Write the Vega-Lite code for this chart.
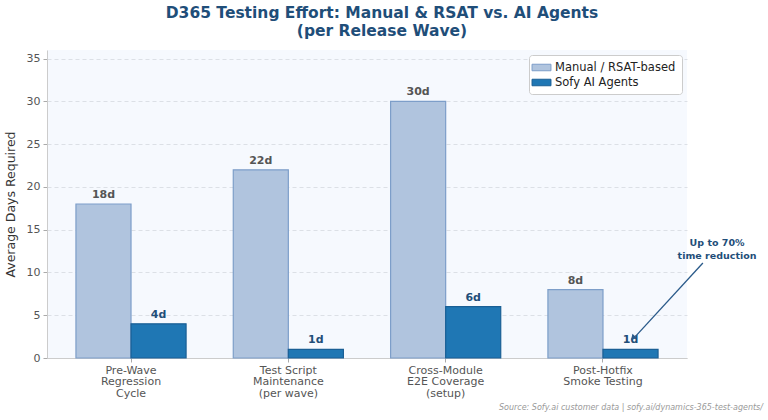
{
  "$schema": "https://vega.github.io/schema/vega-lite/v6.json",
  "autosize": "none",
  "width": 640,
  "height": 308,
  "padding": {"left": 47, "top": 50, "right": 81, "bottom": 62},
  "background": "white",
  "config": {
    "font": "DejaVu Sans",
    "view": {"fill": "#f6f9fe", "stroke": null}
  },
  "title": {
    "text": ["D365 Testing Effort: Manual & RSAT vs. AI Agents", "(per Release Wave)"],
    "fontSize": 15.5,
    "fontWeight": "bold",
    "color": "#1f4e79",
    "anchor": "middle",
    "dx": 15,
    "offset": 11,
    "lineHeight": 18
  },
  "datasets": {
    "bars": [
      {"task": "Pre-Wave\nRegression\nCycle", "series": "Manual / RSAT-based", "days": 18, "label": "18d"},
      {"task": "Pre-Wave\nRegression\nCycle", "series": "Sofy AI Agents", "days": 4, "label": "4d"},
      {"task": "Test Script\nMaintenance\n(per wave)", "series": "Manual / RSAT-based", "days": 22, "label": "22d"},
      {"task": "Test Script\nMaintenance\n(per wave)", "series": "Sofy AI Agents", "days": 1, "label": "1d"},
      {"task": "Cross-Module\nE2E Coverage\n(setup)", "series": "Manual / RSAT-based", "days": 30, "label": "30d"},
      {"task": "Cross-Module\nE2E Coverage\n(setup)", "series": "Sofy AI Agents", "days": 6, "label": "6d"},
      {"task": "Post-Hotfix\nSmoke Testing", "series": "Manual / RSAT-based", "days": 8, "label": "8d"},
      {"task": "Post-Hotfix\nSmoke Testing", "series": "Sofy AI Agents", "days": 1, "label": "1d"}
    ],
    "arrow": [
      {"x": 4.17, "y": 11.1, "x2": 3.74, "y2": 2.5}
    ],
    "arrowhead": [
      {"x": 3.725, "y": 2.34}
    ],
    "note": [
      {"x": 4.26, "y": 13.4, "text": "Up to 70%\ntime reduction"}
    ],
    "source": [
      {"x": 4.552, "y": -5.84, "text": "Source: Sofy.ai customer data | sofy.ai/dynamics-365-test-agents/"}
    ]
  },
  "layer": [
    {
      "data": {"name": "bars"},
      "layer": [
        {
          "mark": {"type": "bar", "strokeWidth": 1.2},
          "encoding": {
            "x": {
              "field": "task", "type": "nominal", "sort": null,
              "scale": {"paddingInner": 0.3, "paddingOuter": 0.184},
              "axis": {
                "title": null,
                "labelAngle": 0,
                "labelExpr": "split(datum.value, '\\n')",
                "labelFontSize": 11,
                "labelColor": "#555555",
                "labelLineHeight": 11.7,
                "labelPadding": 2,
                "tickColor": "#aaaaaa",
                "tickSize": 4,
                "domainColor": "#cccccc",
                "grid": false
              }
            },
            "xOffset": {"field": "series", "type": "nominal", "sort": null, "scale": {"paddingInner": 0}},
            "y": {
              "field": "days", "type": "quantitative",
              "scale": {"domain": [0, 36], "nice": false},
              "axis": {
                "title": "Average Days Required",
                "titleFontSize": 12.5,
                "titleFontWeight": "normal",
                "titleColor": "#333333",
                "titlePadding": 9,
                "values": [0, 5, 10, 15, 20, 25, 30, 35],
                "labelFontSize": 11,
                "labelColor": "#555555",
                "labelPadding": 3,
                "tickColor": "#aaaaaa",
                "tickSize": 4,
                "domainColor": "#cccccc",
                "grid": true,
                "gridColor": "#d5d9e0",
                "gridDash": [4, 3],
                "gridWidth": 0.8
              }
            },
            "fill": {
              "field": "series", "type": "nominal", "sort": null,
              "scale": {"domain": ["Manual / RSAT-based", "Sofy AI Agents"], "range": ["#b0c4de", "#1f77b4"]},
              "legend": {
                "title": null,
                "orient": "top-right",
                "offset": 5,
                "labelFontSize": 11.5,
                "labelColor": "#222222",
                "labelOffset": 7,
                "symbolType": "M-1.6,-0.55H1.6V0.55H-1.6Z",
                "symbolSize": 140,
                "symbolStrokeWidth": 1,
                "fillColor": "white",
                "strokeColor": "#cccccc",
                "cornerRadius": 3,
                "padding": 6,
                "rowPadding": 3
              }
            },
            "stroke": {
              "field": "series", "type": "nominal", "sort": null,
              "scale": {"domain": ["Manual / RSAT-based", "Sofy AI Agents"], "range": ["#7d9ec9", "#1a5f95"]}
            }
          }
        },
        {
          "mark": {"type": "text", "fontWeight": "bold", "fontSize": 11, "dy": -4, "baseline": "bottom"},
          "encoding": {
            "x": {"field": "task", "type": "nominal", "sort": null},
            "xOffset": {"field": "series", "type": "nominal", "sort": null},
            "y": {"field": "days", "type": "quantitative"},
            "text": {"field": "label"},
            "color": {
              "field": "series", "type": "nominal", "sort": null,
              "scale": {"domain": ["Manual / RSAT-based", "Sofy AI Agents"], "range": ["#555555", "#1f4e79"]},
              "legend": null
            }
          }
        }
      ]
    },
    {
      "layer": [
        {
          "data": {"name": "arrow"},
          "mark": {"type": "rule", "color": "#2a5a8a", "strokeWidth": 1.3},
          "encoding": {
            "x": {"field": "x", "type": "quantitative", "scale": {"domain": [0, 4.069], "nice": false, "zero": false}, "axis": null},
            "y": {"field": "y", "type": "quantitative"},
            "x2": {"field": "x2"},
            "y2": {"field": "y2"}
          }
        },
        {
          "data": {"name": "arrowhead"},
          "mark": {"type": "point", "shape": "triangle-up", "filled": true, "color": "#2a5a8a", "size": 40, "angle": 222.7, "opacity": 1},
          "encoding": {
            "x": {"field": "x", "type": "quantitative"},
            "y": {"field": "y", "type": "quantitative"}
          }
        },
        {
          "data": {"name": "note"},
          "mark": {"type": "text", "fontWeight": "bold", "fontSize": 9.5, "color": "#1f4e79", "align": "center", "baseline": "middle", "lineBreak": "\n", "lineHeight": 13},
          "encoding": {
            "x": {"field": "x", "type": "quantitative"},
            "y": {"field": "y", "type": "quantitative"},
            "text": {"field": "text"}
          }
        },
        {
          "data": {"name": "source"},
          "mark": {"type": "text", "fontStyle": "italic", "fontSize": 8, "color": "#999999", "align": "right", "baseline": "middle"},
          "encoding": {
            "x": {"field": "x", "type": "quantitative"},
            "y": {"field": "y", "type": "quantitative"},
            "text": {"field": "text"}
          }
        }
      ]
    }
  ],
  "resolve": {"scale": {"x": "independent"}}
}
